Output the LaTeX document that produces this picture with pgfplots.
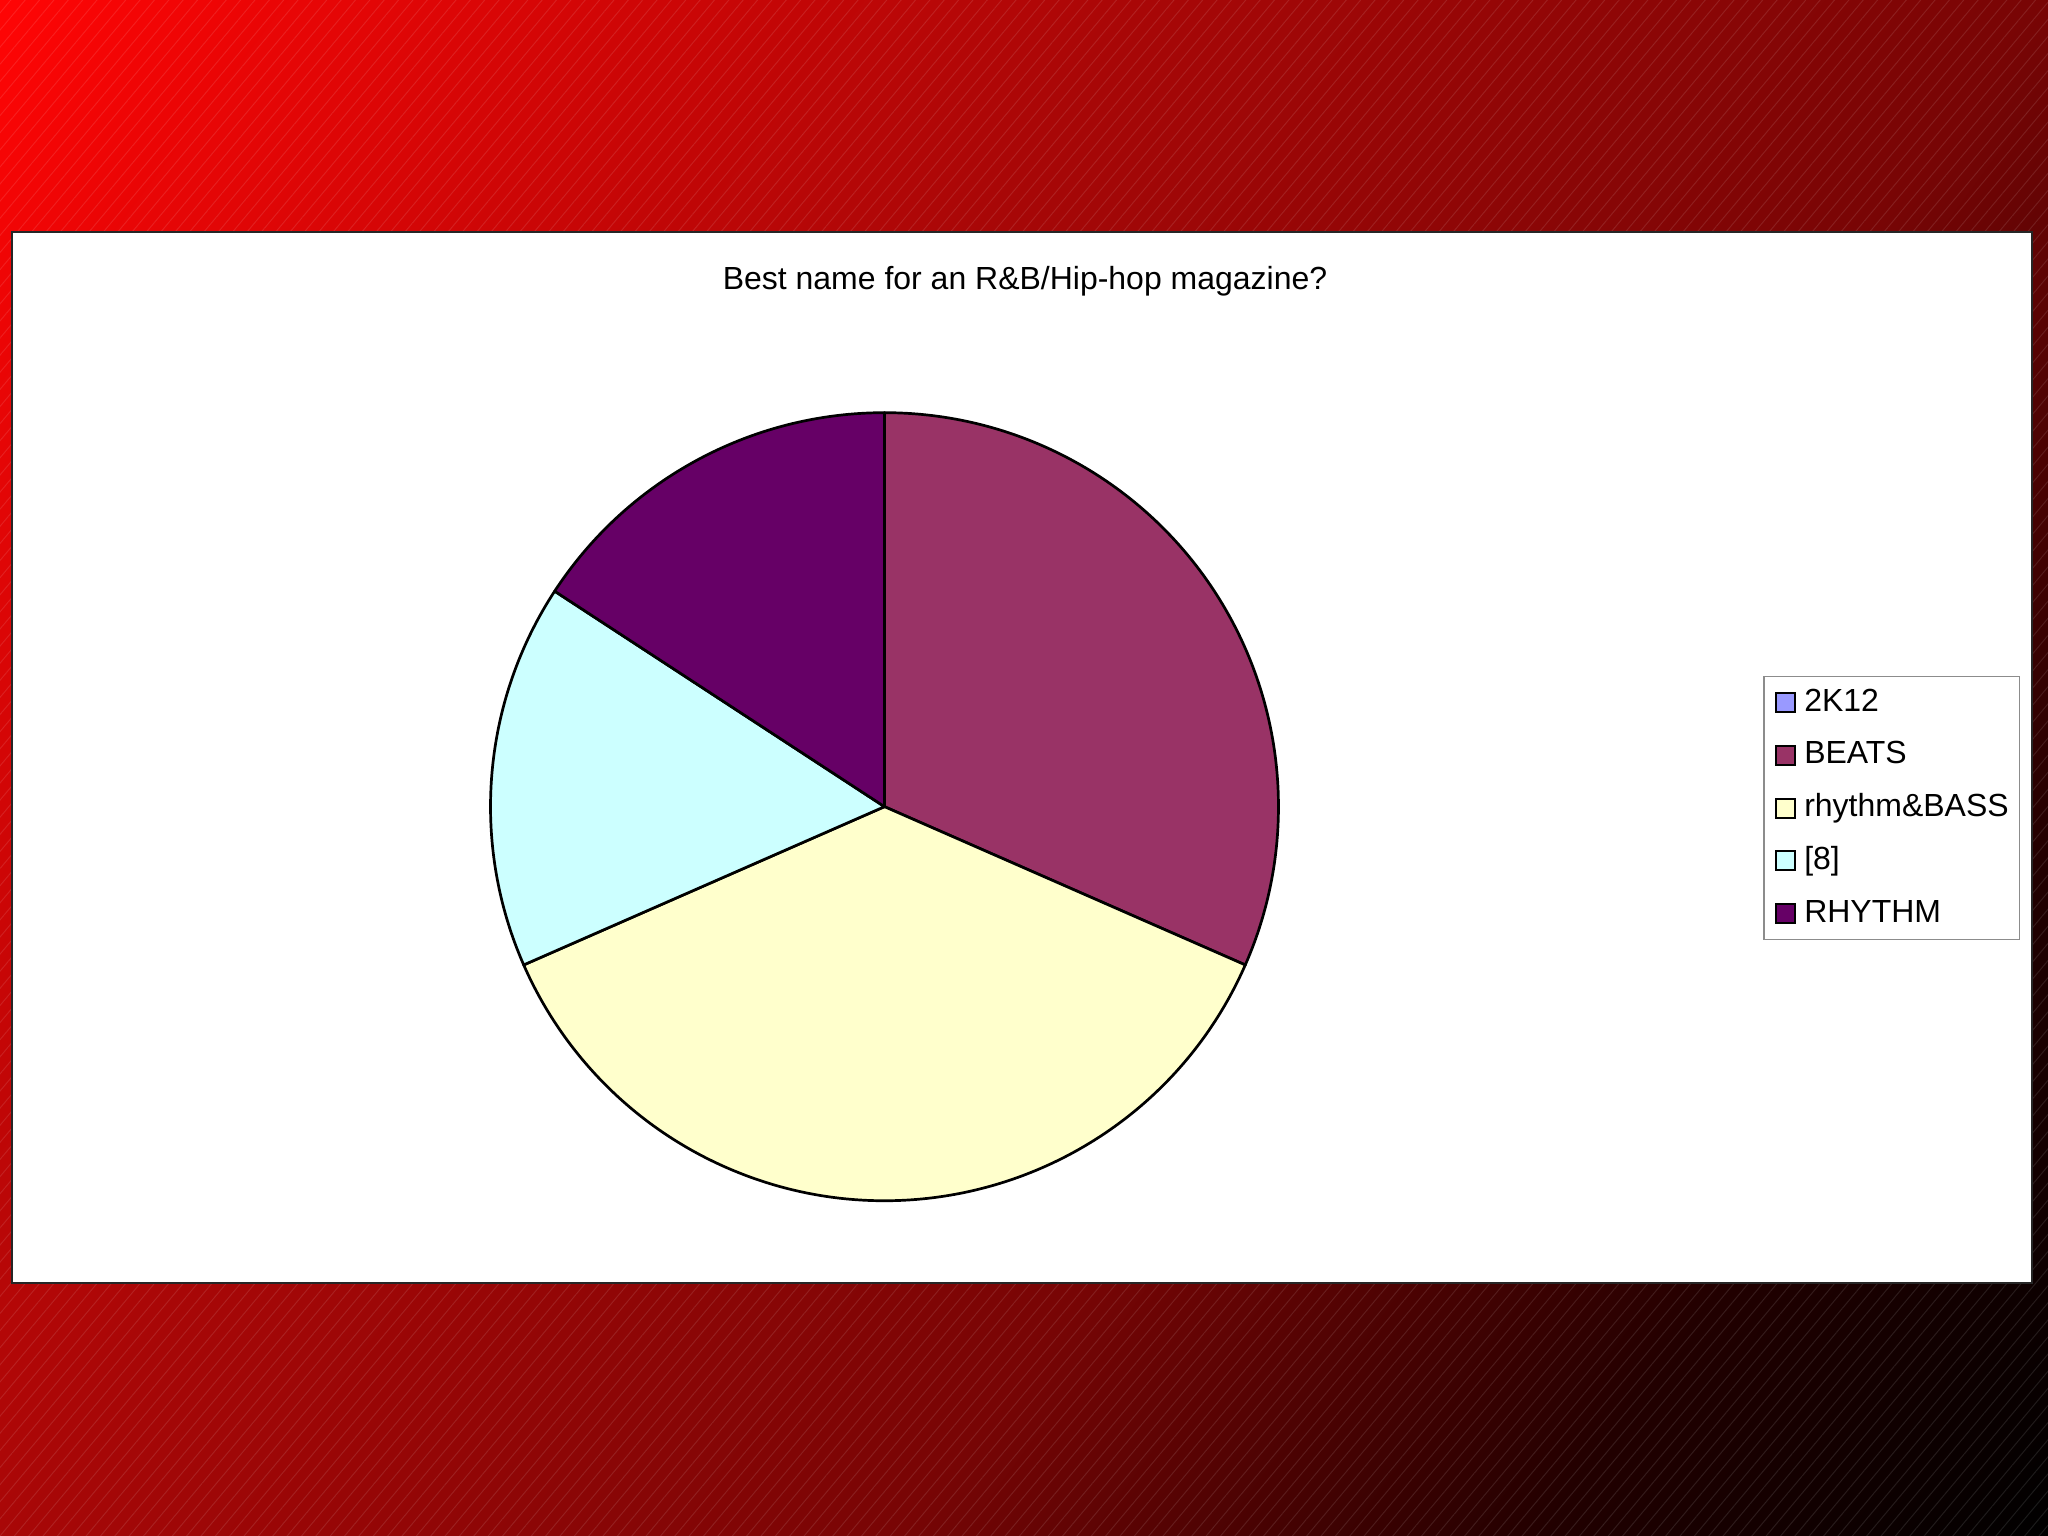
\documentclass[border=0pt]{standalone}
\usepackage{pgfplots}
\usepackage{pgfplotstable}
\pgfplotsset{compat=1.18}
\usetikzlibrary{patterns.meta}
\usepackage{fontspec}
\setmainfont{Liberation Sans}

% Excel-like slice colours
\definecolor{slice0}{HTML}{9999FF}
\definecolor{slice1}{HTML}{993366}
\definecolor{slice2}{HTML}{FFFFCC}
\definecolor{slice3}{HTML}{CCFFFF}
\definecolor{slice4}{HTML}{660066}
\definecolor{bgA}{HTML}{FF0505}
\definecolor{bgB}{HTML}{A80707}
\definecolor{bgC}{HTML}{780505}
\definecolor{bgD}{HTML}{220000}

\pgfdeclarehorizontalshading{bgred}{100bp}{color(0bp)=(bgA); color(25bp)=(bgA);
  color(43bp)=(bgB); color(57bp)=(bgC); color(67bp)=(bgD); color(75bp)=(black); color(100bp)=(black)}

% votes: 2K12, BEATS, rhythm&BASS, [8], RHYTHM
\pgfplotstableread{
value
0
6
7
3
3
}\votes

\begin{document}
\begin{tikzpicture}
\fontsize{9.1}{10.9}\selectfont
\useasboundingbox (0,0) rectangle (204.8mm,153.6mm);
\begin{scope}
  \clip (0,0) rectangle (204.8mm,153.6mm);
  \begin{scope}[transform canvas={shift={(0,153.6mm)}, rotate=-36.87}]
    \shade[shading=bgred] (0,-200mm) rectangle (256mm,200mm);
  \end{scope}
  \fill[pattern={Lines[angle=50, distance=1.1mm, line width=0.1mm]}, pattern color=white, opacity=0.1]
    (0,0) rectangle (204.8mm,153.6mm);
\end{scope}

% chart area
\draw[fill=white, draw=black!85, line width=0.25mm] (1.2mm,25.3mm) rectangle (203.2mm,130.4mm);
\node[anchor=base, inner sep=0pt] at (102.5mm,124.6mm) {Best name for an R\&B/Hip-hop magazine?};

\def\total{0}
\pgfplotsforeachungrouped \i in {0,...,4}{%
  \pgfplotstablegetelem{\i}{value}\of\votes
  \pgfmathsetmacro\total{\total+\pgfplotsretval}%
}

\begin{axis}[
  at={(88.45mm,72.93mm)}, anchor=center,
  width=78.8mm, height=78.8mm, scale only axis,
  xmin=-1, xmax=1, ymin=-1, ymax=1,
  hide axis, clip=false,
  legend cell align=left,
  legend image code/.code={\draw[#1] (0mm,-0.95mm) rectangle (1.9mm,0.95mm);},
  legend style={
    at={(axis description cs:1.6149,0.6659)}, anchor=north west,
    draw=black!45, line width=0.15mm, fill=white,
    inner xsep=1.1mm, inner ysep=1.05mm,
    column sep=0.85mm, row sep=2.175mm,
    font=\fontsize{9.1}{10.9}\selectfont,
    nodes={inner sep=0pt, text height=2.4mm, text depth=0.7mm},
  },
]
\def\angstart{90}
\pgfplotsforeachungrouped \i in {0,...,4}{%
  \pgfplotstablegetelem{\i}{value}\of\votes
  \let\v\pgfplotsretval
  \pgfmathsetmacro\angend{\angstart-360*\v/\total}%
  \pgfmathparse{\v>0 ? 1 : 0}%
  \ifdim\pgfmathresult pt>0.5pt
    \edef\temp{\noexpand\filldraw[fill=slice\i, draw=black, line width=0.27mm, line join=round]
      (axis cs:0,0) -- (axis cs:{cos(\angstart)},{sin(\angstart)})
      arc[start angle=\angstart, end angle=\angend, radius=1] -- cycle;}%
    \temp
  \fi
  \global\let\angstart\angend
}
\addlegendimage{fill=slice0, draw=black, line width=0.2mm}
\addlegendentry{2K12}
\addlegendimage{fill=slice1, draw=black, line width=0.2mm}
\addlegendentry{BEATS}
\addlegendimage{fill=slice2, draw=black, line width=0.2mm}
\addlegendentry{rhythm\&BASS}
\addlegendimage{fill=slice3, draw=black, line width=0.2mm}
\addlegendentry{[8]}
\addlegendimage{fill=slice4, draw=black, line width=0.2mm}
\addlegendentry{RHYTHM}
\end{axis}
\end{tikzpicture}
\end{document}
